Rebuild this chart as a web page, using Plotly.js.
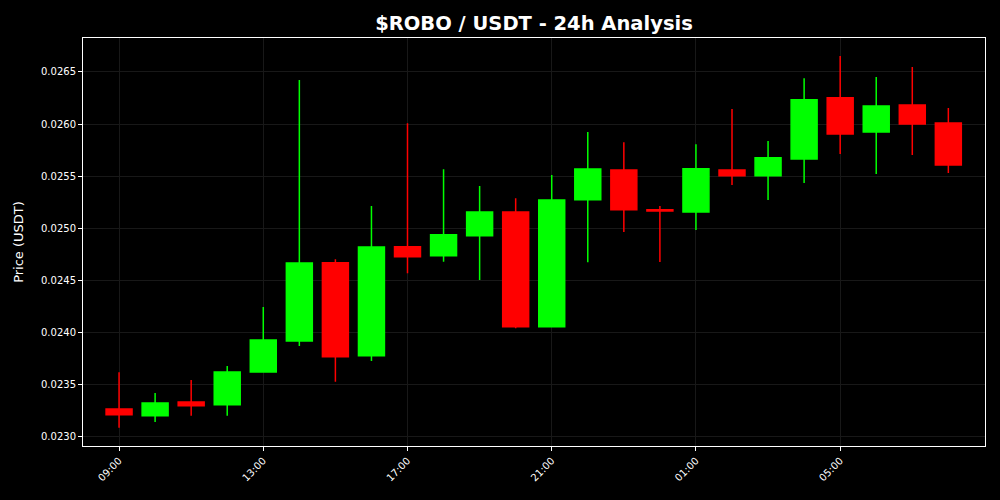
<!DOCTYPE html>
<html>
<head>
<meta charset="utf-8">
<script src="https://cdn.plot.ly/plotly-3.0.1.min.js"></script>
<style>
  html, body { margin: 0; padding: 0; background: #000; }
  #chart { width: 1000px; height: 500px; }
</style>
</head>
<body>
<div id="chart"></div>
<script>
// Hourly timestamps (24 candles)
const times = [
  "2024-01-01 09:00", "2024-01-01 10:00", "2024-01-01 11:00", "2024-01-01 12:00",
  "2024-01-01 13:00", "2024-01-01 14:00", "2024-01-01 15:00", "2024-01-01 16:00",
  "2024-01-01 17:00", "2024-01-01 18:00", "2024-01-01 19:00", "2024-01-01 20:00",
  "2024-01-01 21:00", "2024-01-01 22:00", "2024-01-01 23:00", "2024-01-02 00:00",
  "2024-01-02 01:00", "2024-01-02 02:00", "2024-01-02 03:00", "2024-01-02 04:00",
  "2024-01-02 05:00", "2024-01-02 06:00", "2024-01-02 07:00", "2024-01-02 08:00"
];
const openVals = [
  0.023266, 0.023202, 0.023333, 0.023307, 0.023621, 0.023918, 0.024670, 0.023777,
  0.024823, 0.024737, 0.024929, 0.025156, 0.024056, 0.025274, 0.025560, 0.025178,
  0.025156, 0.025560, 0.025505, 0.025665, 0.026253, 0.025924, 0.026183, 0.026011
];
const highVals = [
  0.023618, 0.023419, 0.023544, 0.023679, 0.024245, 0.026423, 0.024703, 0.025214,
  0.026008, 0.025566, 0.025406, 0.025288, 0.025512, 0.025924, 0.025825, 0.025214,
  0.025806, 0.026145, 0.025838, 0.026440, 0.026654, 0.026452, 0.026548, 0.026155
];
const lowVals = [
  0.023086, 0.023141, 0.023202, 0.023202, 0.023614, 0.023870, 0.023528, 0.023727,
  0.024568, 0.024680, 0.024504, 0.024040, 0.024053, 0.024674, 0.024964, 0.024677,
  0.024984, 0.025416, 0.025272, 0.025435, 0.025713, 0.025521, 0.025703, 0.025531
];
const closeVals = [
  0.023211, 0.023323, 0.023298, 0.023621, 0.023928, 0.024667, 0.023768, 0.024821,
  0.024727, 0.024939, 0.025156, 0.024056, 0.025272, 0.025569, 0.025179, 0.025165,
  0.025572, 0.025505, 0.025678, 0.026234, 0.025905, 0.026174, 0.026001, 0.025608
];
const tickTimes = [
  "2024-01-01 09:00", "2024-01-01 13:00", "2024-01-01 17:00",
  "2024-01-01 21:00", "2024-01-02 01:00", "2024-01-02 05:00"
];
const tickLabels = ["09:00", "13:00", "17:00", "21:00", "01:00", "05:00"];
const yTicks = [0.0230, 0.0235, 0.0240, 0.0245, 0.0250, 0.0255, 0.0260, 0.0265];
const yTickLabels = ["0.0230", "0.0235", "0.0240", "0.0245", "0.0250", "0.0255", "0.0260", "0.0265"];

const trace = {
  type: "candlestick",
  x: times,
  open: openVals,
  high: highVals,
  low: lowVals,
  close: closeVals,
  increasing: { line: { color: "#00ff00", width: 1.5 }, fillcolor: "#00ff00" },
  decreasing: { line: { color: "#ff0000", width: 1.5 }, fillcolor: "#ff0000" },
  whiskerwidth: 0,
  hoverinfo: "x+y",
  showlegend: false
};

const font = "DejaVu Sans, Liberation Sans, sans-serif";
const layout = {
  width: 1000,
  height: 500,
  paper_bgcolor: "#000000",
  plot_bgcolor: "#000000",
  margin: { l: 83, r: 15, t: 38, b: 54 },
  font: { family: font, color: "#ffffff", size: 11 },
  boxgap: 0.28,
  boxgroupgap: 0,
  title: {
    text: "<b>$ROBO / USDT - 24h Analysis</b>",
    font: { family: font, size: 19.5, color: "#ffffff" },
    x: 0.5, xref: "paper", xanchor: "center",
    y: 0.953, yref: "container", yanchor: "middle"
  },
  xaxis: {
    type: "date",
    range: ["2024-01-01 08:00", "2024-01-02 09:01"],
    rangeslider: { visible: false },
    tickmode: "array",
    tickvals: tickTimes,
    ticktext: tickLabels,
    tickangle: -45,
    tickfont: { family: font, size: 10, color: "#ffffff" },
    ticks: "outside",
    ticklen: 4,
    tickcolor: "#ffffff",
    showline: true,
    linecolor: "#ffffff",
    linewidth: 1,
    mirror: true,
    showgrid: true,
    gridcolor: "#181818",
    gridwidth: 1,
    zeroline: false
  },
  yaxis: {
    range: [0.022911, 0.026826],
    tickmode: "array",
    tickvals: yTicks,
    ticktext: yTickLabels,
    tickfont: { family: font, size: 10, color: "#ffffff" },
    ticks: "outside",
    ticklen: 4,
    tickcolor: "#ffffff",
    showline: true,
    linecolor: "#ffffff",
    linewidth: 1,
    mirror: true,
    showgrid: true,
    gridcolor: "#181818",
    gridwidth: 1,
    zeroline: false,
    title: { text: "Price (USDT)", font: { family: font, size: 13, color: "#ffffff" }, standoff: 14 }
  }
};

Plotly.newPlot("chart", [trace], layout, { displayModeBar: false, staticPlot: true });
</script>
</body>
</html>
